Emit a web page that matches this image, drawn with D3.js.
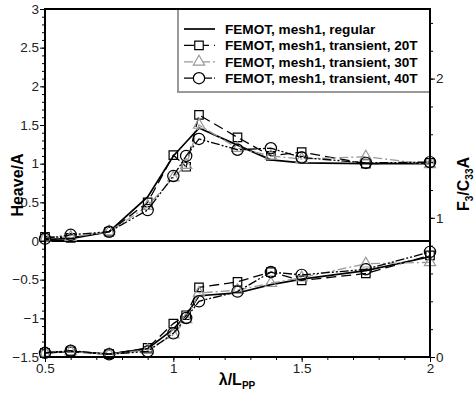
<!DOCTYPE html>
<html>
<head>
<meta charset="utf-8">
<script src="https://cdn.jsdelivr.net/npm/d3@7"></script>
<style>
body{margin:0;background:#fff}
text{font-family:"Liberation Sans",Arial,sans-serif}
</style>
</head>
<body>
<svg id="chart"></svg>
<script>
// wave length ratio, shared by all series
var lambdaVals = [0.5, 0.6, 0.75, 0.9, 1.0, 1.05, 1.1, 1.25, 1.38, 1.5, 1.75, 2.0];

// heave (left axis)
var heaveRegular = [0.02, 0.03, 0.12, 0.57, 1.10, 1.28, 1.46, 1.24, 1.05, 1.01, 1.00, 1.00];
var heave20T     = [0.055, 0.04, 0.12, 0.50, 1.11, 0.96, 1.63, 1.34, 1.10, 1.15, 1.00, 1.01];
var heave30T     = [0.04, 0.05, 0.12, 0.45, 0.82, 0.98, 1.50, 1.20, 1.10, 1.06, 1.09, 0.99];
var heave40T     = [0.03, 0.08, 0.12, 0.40, 0.84, 1.10, 1.32, 1.18, 1.20, 1.08, 1.01, 1.02];

// F3/C33A (right axis)
var forceRegular = [0.03, 0.04, 0.02, 0.06, 0.20, 0.30, 0.44, 0.46, 0.52, 0.56, 0.62, 0.72];
var force20T     = [0.03, 0.04, 0.02, 0.065, 0.24, 0.30, 0.50, 0.54, 0.61, 0.55, 0.60, 0.73];
var force30T     = [0.03, 0.04, 0.02, 0.05, 0.16, 0.27, 0.46, 0.48, 0.53, 0.57, 0.67, 0.68];
var force40T     = [0.03, 0.045, 0.02, 0.04, 0.17, 0.28, 0.40, 0.47, 0.61, 0.59, 0.63, 0.755];

var seriesNames = ["FEMOT, mesh1, regular", "FEMOT, mesh1, transient, 20T",
                   "FEMOT, mesh1, transient, 30T", "FEMOT, mesh1, transient, 40T"];

var xTicks = [0.5, 1, 1.5, 2];
var leftTicks = [-1.5, -1, -0.5, 0, 0.5, 1, 1.5, 2, 2.5, 3];
var rightTicks = [0, 1, 2];

var W = 474, H = 395;
var margin = {left:45, right:44, top:9, bottom:38};
var pw = W - margin.left - margin.right;
var ph = H - margin.top - margin.bottom;

var svg = d3.select("#chart").attr("width", W).attr("height", H);
var g = svg.append("g").attr("transform", "translate(" + margin.left + "," + margin.top + ")");

var x = d3.scaleLinear().domain([0.5, 2]).range([0, pw]);
var yL = d3.scaleLinear().domain([-1.5, 3]).range([ph, 0]);
var yR = d3.scaleLinear().domain([0, 2.5]).range([ph, 0]);

var styles = [
  {name:seriesNames[0], heave:heaveRegular, force:forceRegular, color:"#000", dash:null, width:1.7, marker:null},
  {name:seriesNames[1], heave:heave20T, force:force20T, color:"#000", dash:"10,5", width:1.3, marker:d3.symbolSquare, size:72},
  {name:seriesNames[2], heave:heave30T, force:force30T, color:"#999", dash:"9,3,2,3", width:1.3, marker:d3.symbolTriangle, size:55},
  {name:seriesNames[3], heave:heave40T, force:force40T, color:"#000", dash:"9,2,2,2,2,2", width:1.3, marker:d3.symbolCircle, size:100}
];

// zero line of heave
g.append("line")
  .attr("x1", 0).attr("x2", pw)
  .attr("y1", yL(0)).attr("y2", yL(0))
  .attr("stroke", "#000").attr("stroke-width", 1.8);

var lineL = d3.line().x(function(d){ return x(d[0]); }).y(function(d){ return yL(d[1]); });
var lineR = d3.line().x(function(d){ return x(d[0]); }).y(function(d){ return yR(d[1]); });

styles.forEach(function(s) {
  var hp = d3.zip(lambdaVals, s.heave);
  var fp = d3.zip(lambdaVals, s.force);
  [[hp, lineL, yL], [fp, lineR, yR]].forEach(function(set) {
    g.append("path")
      .attr("d", set[1](set[0]))
      .attr("fill", "none")
      .attr("stroke", s.color)
      .attr("stroke-width", s.width)
      .attr("stroke-dasharray", s.dash);
    if (s.marker) {
      g.selectAll(null).data(set[0]).enter().append("path")
        .attr("d", d3.symbol().type(s.marker).size(s.size))
        .attr("transform", function(d){ return "translate(" + x(d[0]) + "," + set[2](d[1]) + ")"; })
        .attr("fill", "none")
        .attr("stroke", s.color)
        .attr("stroke-width", 1.2);
    }
  });
});

// legend
var lg = g.append("g");
var lx = 133;
lg.append("rect")
  .attr("x", lx).attr("y", 0).attr("width", pw - lx).attr("height", 83)
  .attr("fill", "#fff").attr("stroke", "#999").attr("stroke-width", 2);
styles.forEach(function(s, i) {
  var ly = 20 + i * 16.4;
  lg.append("line")
    .attr("x1", lx + 6).attr("x2", lx + 37)
    .attr("y1", ly).attr("y2", ly)
    .attr("stroke", s.color).attr("stroke-width", s.width)
    .attr("stroke-dasharray", s.dash);
  if (s.marker) {
    lg.append("path")
      .attr("d", d3.symbol().type(s.marker).size(s.size))
      .attr("transform", "translate(" + (lx + 21) + "," + ly + ")")
      .attr("fill", "#fff").attr("stroke", s.color).attr("stroke-width", 1.2);
  }
  lg.append("text")
    .attr("x", lx + 47).attr("y", ly + 5)
    .attr("font-size", 13.6).attr("font-weight", "bold")
    .text(s.name);
});

// frame
g.append("rect")
  .attr("width", pw).attr("height", ph)
  .attr("fill", "none").attr("stroke", "#000").attr("stroke-width", 2);

function styleAxis(sel) {
  sel.select(".domain").remove();
  sel.selectAll("line").attr("stroke", "#000").attr("stroke-width", 1);
  sel.selectAll("text").attr("font-size", 13.5).attr("fill", "#222");
}

// minor ticks
g.append("g").attr("transform", "translate(0," + ph + ")")
  .call(d3.axisBottom(x).tickValues(d3.range(0.5, 2.001, 0.1)).tickSize(3).tickFormat(""))
  .call(styleAxis);
g.append("g")
  .call(d3.axisLeft(yL).tickValues(d3.range(-1.5, 3.001, 0.1)).tickSize(3).tickFormat(""))
  .call(styleAxis);
g.append("g").attr("transform", "translate(" + pw + ",0)")
  .call(d3.axisRight(yR).tickValues(d3.range(0, 2.5, 0.2)).tickSize(3).tickFormat(""))
  .call(styleAxis);

// major ticks
g.append("g").attr("transform", "translate(0," + ph + ")")
  .call(d3.axisBottom(x).tickValues(xTicks).tickSize(5).tickPadding(1).tickFormat(d3.format("")))
  .call(styleAxis);
g.append("g")
  .call(d3.axisLeft(yL).tickValues(leftTicks).tickSize(5).tickPadding(1).tickFormat(d3.format("")))
  .call(styleAxis);
g.append("g").attr("transform", "translate(" + pw + ",0)")
  .call(d3.axisRight(yR).tickValues(rightTicks).tickSize(5).tickPadding(1).tickFormat(d3.format("")))
  .call(styleAxis);

// axis titles
var xt = svg.append("text")
  .attr("x", 237).attr("y", 385)
  .attr("text-anchor", "middle").attr("font-size", 16).attr("font-weight", "bold");
xt.append("tspan").text("\u03bb/L");
xt.append("tspan").attr("font-size", 10).attr("dy", 4).text("PP");

svg.append("text")
  .attr("transform", "translate(23,185) rotate(-90)")
  .attr("text-anchor", "middle").attr("font-size", 16).attr("font-weight", "bold")
  .text("Heave/A");

var rt = svg.append("text")
  .attr("transform", "translate(469,184) rotate(-90)")
  .attr("text-anchor", "middle").attr("font-size", 16).attr("font-weight", "bold");
rt.append("tspan").text("F");
rt.append("tspan").attr("font-size", 10).attr("dy", 4).text("3");
rt.append("tspan").attr("dy", -4).text("/C");
rt.append("tspan").attr("font-size", 10).attr("dy", 4).text("33");
rt.append("tspan").attr("dy", -4).text("A");
</script>
</body>
</html>
